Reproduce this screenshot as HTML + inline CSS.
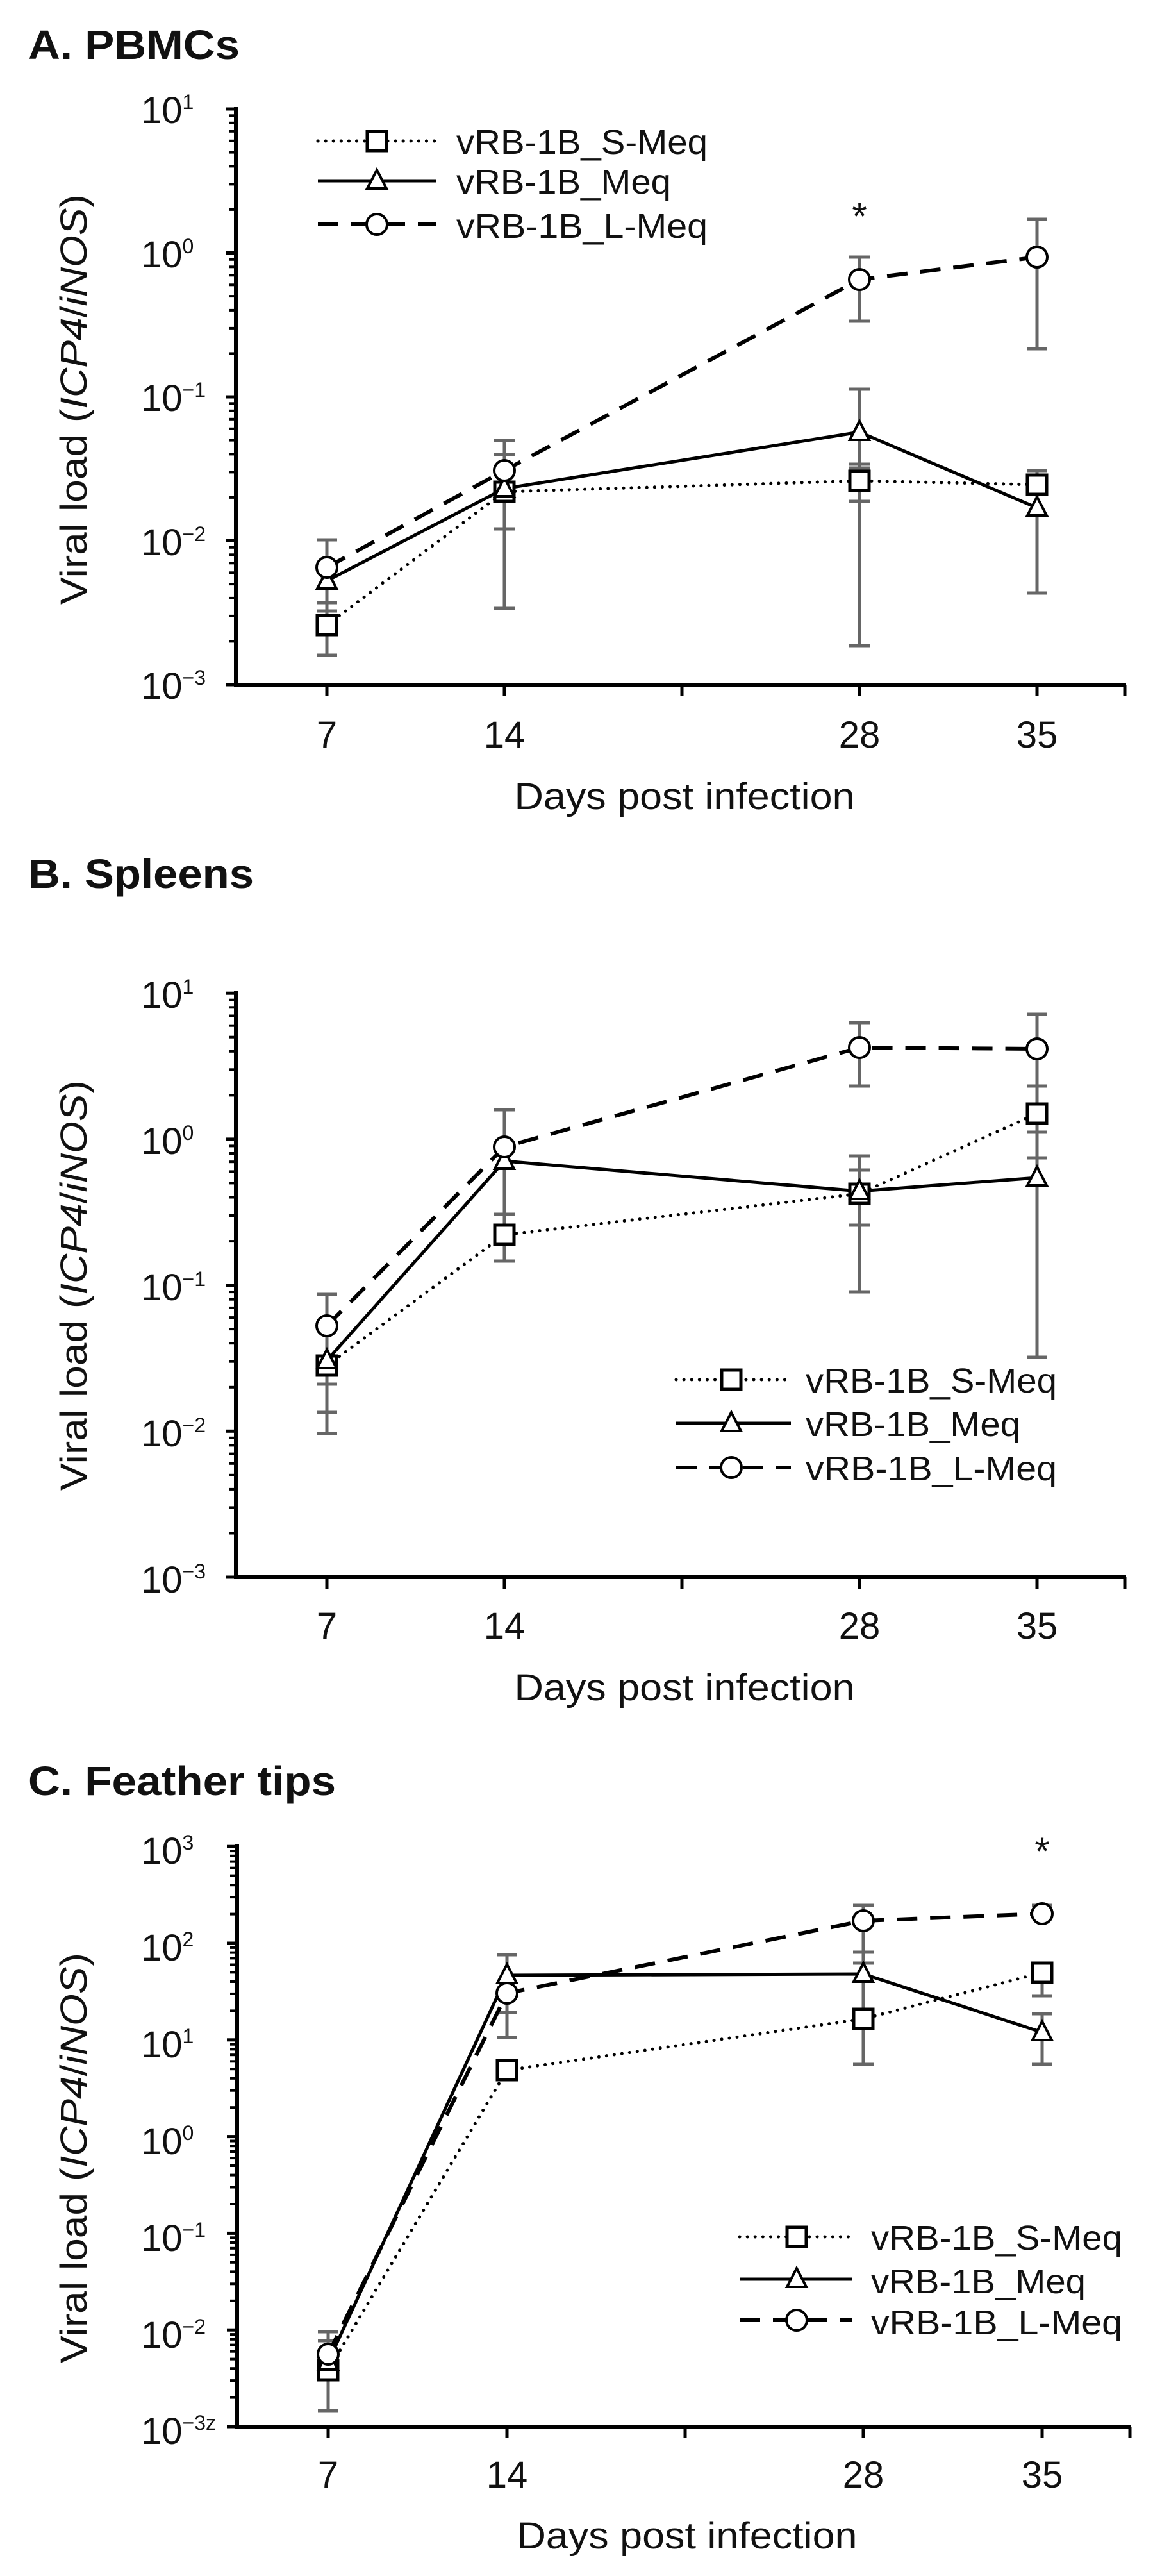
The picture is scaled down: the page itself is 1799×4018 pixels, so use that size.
<!DOCTYPE html>
<html><head><meta charset="utf-8"><style>
html,body{margin:0;padding:0;background:#fff}
svg{display:block}
text{font-family:"Liberation Sans",Arial,sans-serif;fill:#111}
</style></head><body>
<svg id="s" width="1799" height="4018" viewBox="0 0 1799 4018" xmlns="http://www.w3.org/2000/svg">
<rect width="1799" height="4018" fill="#fff"/>
<text x="44" y="92" font-size="64" font-weight="bold" textLength="330" lengthAdjust="spacingAndGlyphs">A. PBMCs</text>
<text x="44" y="1385" font-size="64" font-weight="bold" textLength="352" lengthAdjust="spacingAndGlyphs">B. Spleens</text>
<text x="44" y="2800" font-size="64" font-weight="bold" textLength="480" lengthAdjust="spacingAndGlyphs">C. Feather tips</text>

<g font-size="58">
<text x="220" y="192">10<tspan font-size="32" dy="-22">1</tspan></text>
<text x="220" y="417">10<tspan font-size="32" dy="-22">0</tspan></text>
<text x="220" y="641">10<tspan font-size="32" dy="-22">−1</tspan></text>
<text x="220" y="866">10<tspan font-size="32" dy="-22">−2</tspan></text>
<text x="220" y="1090">10<tspan font-size="32" dy="-22">−3</tspan></text>
</g>
<g font-size="58" text-anchor="middle">
<text x="510" y="1166">7</text><text x="787" y="1166">14</text><text x="1341" y="1166">28</text><text x="1618" y="1166">35</text>
<text x="1068" y="1262" textLength="531" lengthAdjust="spacingAndGlyphs">Days post infection</text>
<text transform="translate(135,623) rotate(-90)" textLength="640" lengthAdjust="spacingAndGlyphs">Viral load (<tspan font-style="italic">ICP4</tspan>/<tspan font-style="italic">iNOS</tspan>)</text>
<text x="1341" y="358" font-size="60">*</text>
</g>
<g font-size="54">
<text x="712" y="240" textLength="392" lengthAdjust="spacingAndGlyphs">vRB-1B_S-Meq</text>
<text x="712" y="302" textLength="335" lengthAdjust="spacingAndGlyphs">vRB-1B_Meq</text>
<text x="712" y="371" textLength="392" lengthAdjust="spacingAndGlyphs">vRB-1B_L-Meq</text>
</g>

<g font-size="58">
<text x="220" y="1572">10<tspan font-size="32" dy="-22">1</tspan></text>
<text x="220" y="1800">10<tspan font-size="32" dy="-22">0</tspan></text>
<text x="220" y="2028">10<tspan font-size="32" dy="-22">−1</tspan></text>
<text x="220" y="2256">10<tspan font-size="32" dy="-22">−2</tspan></text>
<text x="220" y="2484">10<tspan font-size="32" dy="-22">−3</tspan></text>
</g>
<g font-size="58" text-anchor="middle">
<text x="510" y="2556">7</text><text x="787" y="2556">14</text><text x="1341" y="2556">28</text><text x="1618" y="2556">35</text>
<text x="1068" y="2652" textLength="531" lengthAdjust="spacingAndGlyphs">Days post infection</text>
<text transform="translate(135,2005) rotate(-90)" textLength="640" lengthAdjust="spacingAndGlyphs">Viral load (<tspan font-style="italic">ICP4</tspan>/<tspan font-style="italic">iNOS</tspan>)</text>
</g>
<g font-size="54">
<text x="1257" y="2172" textLength="392" lengthAdjust="spacingAndGlyphs">vRB-1B_S-Meq</text>
<text x="1257" y="2240" textLength="335" lengthAdjust="spacingAndGlyphs">vRB-1B_Meq</text>
<text x="1257" y="2309" textLength="392" lengthAdjust="spacingAndGlyphs">vRB-1B_L-Meq</text>
</g>

<g font-size="58">
<text x="220" y="2907">10<tspan font-size="32" dy="-22">3</tspan></text>
<text x="220" y="3058">10<tspan font-size="32" dy="-22">2</tspan></text>
<text x="220" y="3209">10<tspan font-size="32" dy="-22">1</tspan></text>
<text x="220" y="3360">10<tspan font-size="32" dy="-22">0</tspan></text>
<text x="220" y="3511">10<tspan font-size="32" dy="-22">−1</tspan></text>
<text x="220" y="3662">10<tspan font-size="32" dy="-22">−2</tspan></text>
<text x="220" y="3812">10<tspan font-size="32" dy="-22">−3z</tspan></text>
</g>
<g font-size="58" text-anchor="middle">
<text x="512" y="3880">7</text><text x="791" y="3880">14</text><text x="1347" y="3880">28</text><text x="1626" y="3880">35</text>
<text x="1072" y="3975" textLength="531" lengthAdjust="spacingAndGlyphs">Days post infection</text>
<text transform="translate(135,3366) rotate(-90)" textLength="640" lengthAdjust="spacingAndGlyphs">Viral load (<tspan font-style="italic">ICP4</tspan>/<tspan font-style="italic">iNOS</tspan>)</text>
<text x="1626" y="2908" font-size="60">*</text>
</g>
<g font-size="54">
<text x="1359" y="3509" textLength="392" lengthAdjust="spacingAndGlyphs">vRB-1B_S-Meq</text>
<text x="1359" y="3577" textLength="335" lengthAdjust="spacingAndGlyphs">vRB-1B_Meq</text>
<text x="1359" y="3641" textLength="392" lengthAdjust="spacingAndGlyphs">vRB-1B_L-Meq</text>
</g>
<g id="g"></g>
</svg>
<script>
(function(){
var G=document.getElementById("g"),o="";
function L(x1,y1,x2,y2,st){o+='<line x1="'+x1+'" y1="'+y1+'" x2="'+x2+'" y2="'+y2+'" '+st+'/>';}
var lg=[.301,.477,.602,.699,.778,.845,.903,.954];
var panels=[
 {ax:368,top:170,bot:1068,dec:224.5,xe:1757,xs:[510,787,1064,1341,1618],
  err:[[510,842,1022,[842,940,953,1022]],[787,687,949,[687,709,825,949]],[1341,401,501,[401,501]],[1341,607,1007,[607,724,730,782,1007]],[1618,342,544,[342,544]],[1618,734,925,[734,745,925]]],
  s:[[510,975],[787,767],[1341,750],[1618,756]],t:[[510,906],[787,762],[1341,674],[1618,792]],c:[[510,885],[787,734],[1341,436],[1618,401]],
  leg:[496,680,588,[220,282,350]]},
 {ax:368,top:1549,bot:2460,dec:227.7,xe:1757,xs:[510,787,1064,1341,1618],
  err:[[510,2019,2236,[2019,2159,2203,2236]],[787,1731,1967,[1731,1894,1967]],[1341,1595,1694,[1595,1694]],[1341,1803,2015,[1803,1825,1911,2015]],[1618,1582,2117,[1582,1694,1766,1806,2117]]],
  s:[[510,2130],[787,1926],[1341,1862],[1618,1737]],t:[[510,2122],[787,1811],[1341,1858],[1618,1837]],c:[[510,2068],[787,1789],[1341,1634],[1618,1636]],
  leg:[1055,1234,1141,[2152,2220,2289]]},
 {ax:370,top:2880,bot:3785,dec:150.8,xe:1765,xs:[512,791,1069,1347,1626],
  err:[[512,3637,3760,[3637,3651,3760]],[791,3049,3178,[3049,3139,3178]],[1347,2972,3220,[2972,3045,3062,3220]],[1626,2972,2995,[2972]],[1626,3062,3113,[3062,3113]],[1626,3141,3220,[3141,3220]]],
  s:[[512,3697],[791,3229],[1347,3149],[1626,3077]],t:[[512,3684],[791,3081],[1347,3079],[1626,3170]],c:[[512,3672],[791,3109],[1347,2996],[1626,2985]],
  leg:[1154,1330,1243,[3489,3555,3619]]}
];
var ax='stroke="#000" stroke-width="6"';
panels.forEach(function(p){
 p.err.forEach(function(e){L(e[0],e[1],e[0],e[2],'stroke="#666" stroke-width="5"');e[3].forEach(function(c){L(e[0]-16,c,e[0]+16,c,'stroke="#666" stroke-width="5"');});});
 L(p.ax,p.top-3,p.ax,p.bot+3,ax);L(p.ax-3,p.bot,p.xe,p.bot,ax);
 var nd=Math.round((p.bot-p.top)/p.dec);
 for(var d=0;d<=nd;d++){var y=p.bot-d*p.dec;L(p.ax-16,y,p.ax,y,'stroke="#000" stroke-width="5"');
  if(d<nd)lg.forEach(function(v){var yy=y-v*p.dec;L(p.ax-11,yy.toFixed(1),p.ax,yy.toFixed(1),'stroke="#000" stroke-width="4"');});}
 p.xs.concat([p.xe-2]).forEach(function(x){L(x,p.bot,x,p.bot+18,'stroke="#000" stroke-width="5"');});
 function poly(a,st){o+='<polyline fill="none" points="'+a.map(function(q){return q.join(",")}).join(" ")+'" '+st+'/>';}
 poly(p.s,'stroke="#000" stroke-width="5" stroke-dasharray="0.1 12" stroke-linecap="round"');
 poly(p.t,'stroke="#000" stroke-width="5"');
 poly(p.c,'stroke="#000" stroke-width="6" stroke-dasharray="32 20"');
 function sq(x,y){o+='<rect x="'+(x-15)+'" y="'+(y-15)+'" width="30" height="30" fill="#fff" stroke="#000" stroke-width="5"/>';}
 function tr(x,y){o+='<polygon points="'+x+','+(y-17)+' '+(x+15)+','+(y+12)+' '+(x-15)+','+(y+12)+'" fill="#fff" stroke="#000" stroke-width="4"/>';}
 function ci(x,y){o+='<circle cx="'+x+'" cy="'+y+'" r="16" fill="#fff" stroke="#000" stroke-width="4"/>';}
 p.s.forEach(function(q){sq(q[0],q[1]);});p.t.forEach(function(q){tr(q[0],q[1]);});p.c.forEach(function(q){ci(q[0],q[1]);});
 var g=p.leg;
 L(g[0],g[3][0],g[1],g[3][0],'stroke="#000" stroke-width="5" stroke-dasharray="0.1 12" stroke-linecap="round"');sq(g[2],g[3][0]);
 L(g[0],g[3][1],g[1],g[3][1],'stroke="#000" stroke-width="5"');tr(g[2],g[3][1]);
 L(g[0],g[3][2],g[1],g[3][2],'stroke="#000" stroke-width="6" stroke-dasharray="32 20"');ci(g[2],g[3][2]);
});
G.innerHTML=o;
})();
</script>
</body></html>
